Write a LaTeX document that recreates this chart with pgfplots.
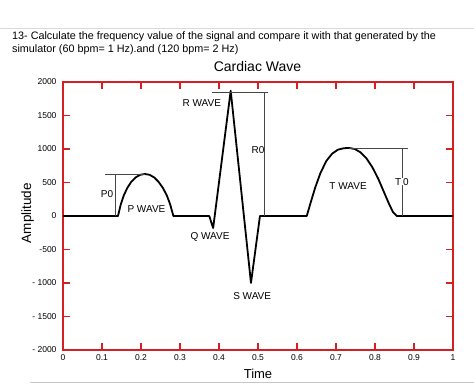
\documentclass[border=0pt]{standalone}
\usepackage{fontspec}
\setmainfont{Liberation Sans}
\usepackage{pgfplots}
\pgfplotsset{compat=1.18}
\definecolor{axred}{RGB}{212,32,32}
\definecolor{annot}{RGB}{70,70,70}
\begin{document}
\begin{tikzpicture}
\useasboundingbox (0pt,0pt) rectangle (474pt,389pt);
\fill[white] (0pt,0pt) rectangle (474pt,389pt);
\draw[gray!30, line width=1pt] (0pt,360pt) -- (474pt,360pt);
\draw[gray!45, line width=1pt] (30pt,7pt) -- (474pt,7pt);
\node[anchor=base west, inner sep=0, font=\fontsize{10.8}{12}\selectfont] at (12pt,349.5pt) {13- Calculate the frequency value of the signal and compare it with that generated by the};
\node[anchor=base west, inner sep=0, font=\fontsize{10.8}{12}\selectfont] at (12pt,336pt) {simulator (60 bpm= 1 Hz).and (120 bpm= 2 Hz)};
\node[anchor=base, inner sep=0, font=\fontsize{14}{16}\selectfont] at (257.5pt,317pt) {Cardiac Wave};
\node[anchor=base, inner sep=0, rotate=90, font=\fontsize{13.5}{16}\selectfont] at (31pt,176pt) {Amplitude};
\node[anchor=base, inner sep=0, font=\fontsize{13}{15}\selectfont] at (258pt,11pt) {Time};
\begin{axis}[
  at={(63pt,39pt)}, anchor=south west, scale only axis,
  width=390pt, height=268pt,
  xmin=0, xmax=1, ymin=-2000, ymax=2000,
  xtick={0,0.1,...,1}, ytick={-2000,-1500,...,2000},
  yticklabels={- 2000,- 1500,- 1000,-500,0,500,1000,1500,2000},
  axis line style={axred, line width=1.5pt},
  tick style={axred, line width=1.6pt},
  major tick length=7pt,
  tick align=inside,
  xtick pos=both, ytick pos=both,
  xticklabel pos=bottom, yticklabel pos=left,
  tick label style={black, font=\fontsize{8.5}{10}\selectfont},
  /pgf/number format/assume math mode=true,
  xticklabel style={yshift=-1pt},
  yticklabel style={xshift=-3pt},
  clip=false,
]
% ECG waveform
\addplot[black, line width=1.8pt, line join=round] coordinates {
 (0,0) (0.141,0)
 (0.148,170) (0.156,310) (0.165,420) (0.175,510) (0.186,575) (0.198,615) (0.21,627)
 (0.222,615) (0.234,575) (0.245,510) (0.256,420) (0.266,310) (0.275,170) (0.283,0)
 (0.375,0) (0.385,-180) (0.43,1870) (0.482,-1000) (0.505,0)
 (0.625,0)
 (0.635,200) (0.647,430) (0.66,640) (0.675,820) (0.69,930) (0.705,990) (0.72,1012) (0.734,1015)
 (0.748,1000) (0.763,950) (0.778,860) (0.793,730) (0.808,560) (0.822,370) (0.836,180) (0.846,60) (0.856,0)
 (1,0)
};
% annotation lines
\addplot[annot, line width=0.7pt] coordinates {(0.108,627) (0.21,627)};
\addplot[annot, line width=0.7pt] coordinates {(0.133,0) (0.133,627)};
\addplot[annot, line width=0.7pt] coordinates {(0.382,1840) (0.525,1840)};
\addplot[annot, line width=0.7pt] coordinates {(0.515,0) (0.515,1840)};
\addplot[annot, line width=0.7pt] coordinates {(0.734,1015) (0.885,1015)};
\addplot[annot, line width=0.7pt] coordinates {(0.869,0) (0.869,1015)};
% labels
\node[font=\fontsize{10}{12}\selectfont] at (axis cs:0.113,330) {P0};
\node[font=\fontsize{10}{12}\selectfont, anchor=west, inner sep=0] at (axis cs:0.165,110) {P WAVE};
\node[font=\fontsize{10}{12}\selectfont] at (axis cs:0.356,1690) {R WAVE};
\node[font=\fontsize{10}{12}\selectfont] at (axis cs:0.5,990) {R0};
\node[font=\fontsize{10}{12}\selectfont] at (axis cs:0.377,-320) {Q WAVE};
\node[font=\fontsize{10}{12}\selectfont] at (axis cs:0.485,-1190) {S WAVE};
\node[font=\fontsize{10}{12}\selectfont] at (axis cs:0.731,440) {T WAVE};
\node[font=\fontsize{10}{12}\selectfont, fill=white, inner xsep=1pt, inner ysep=0pt] at (axis cs:0.869,510) {T\,0};
\end{axis}
\end{tikzpicture}
\end{document}
